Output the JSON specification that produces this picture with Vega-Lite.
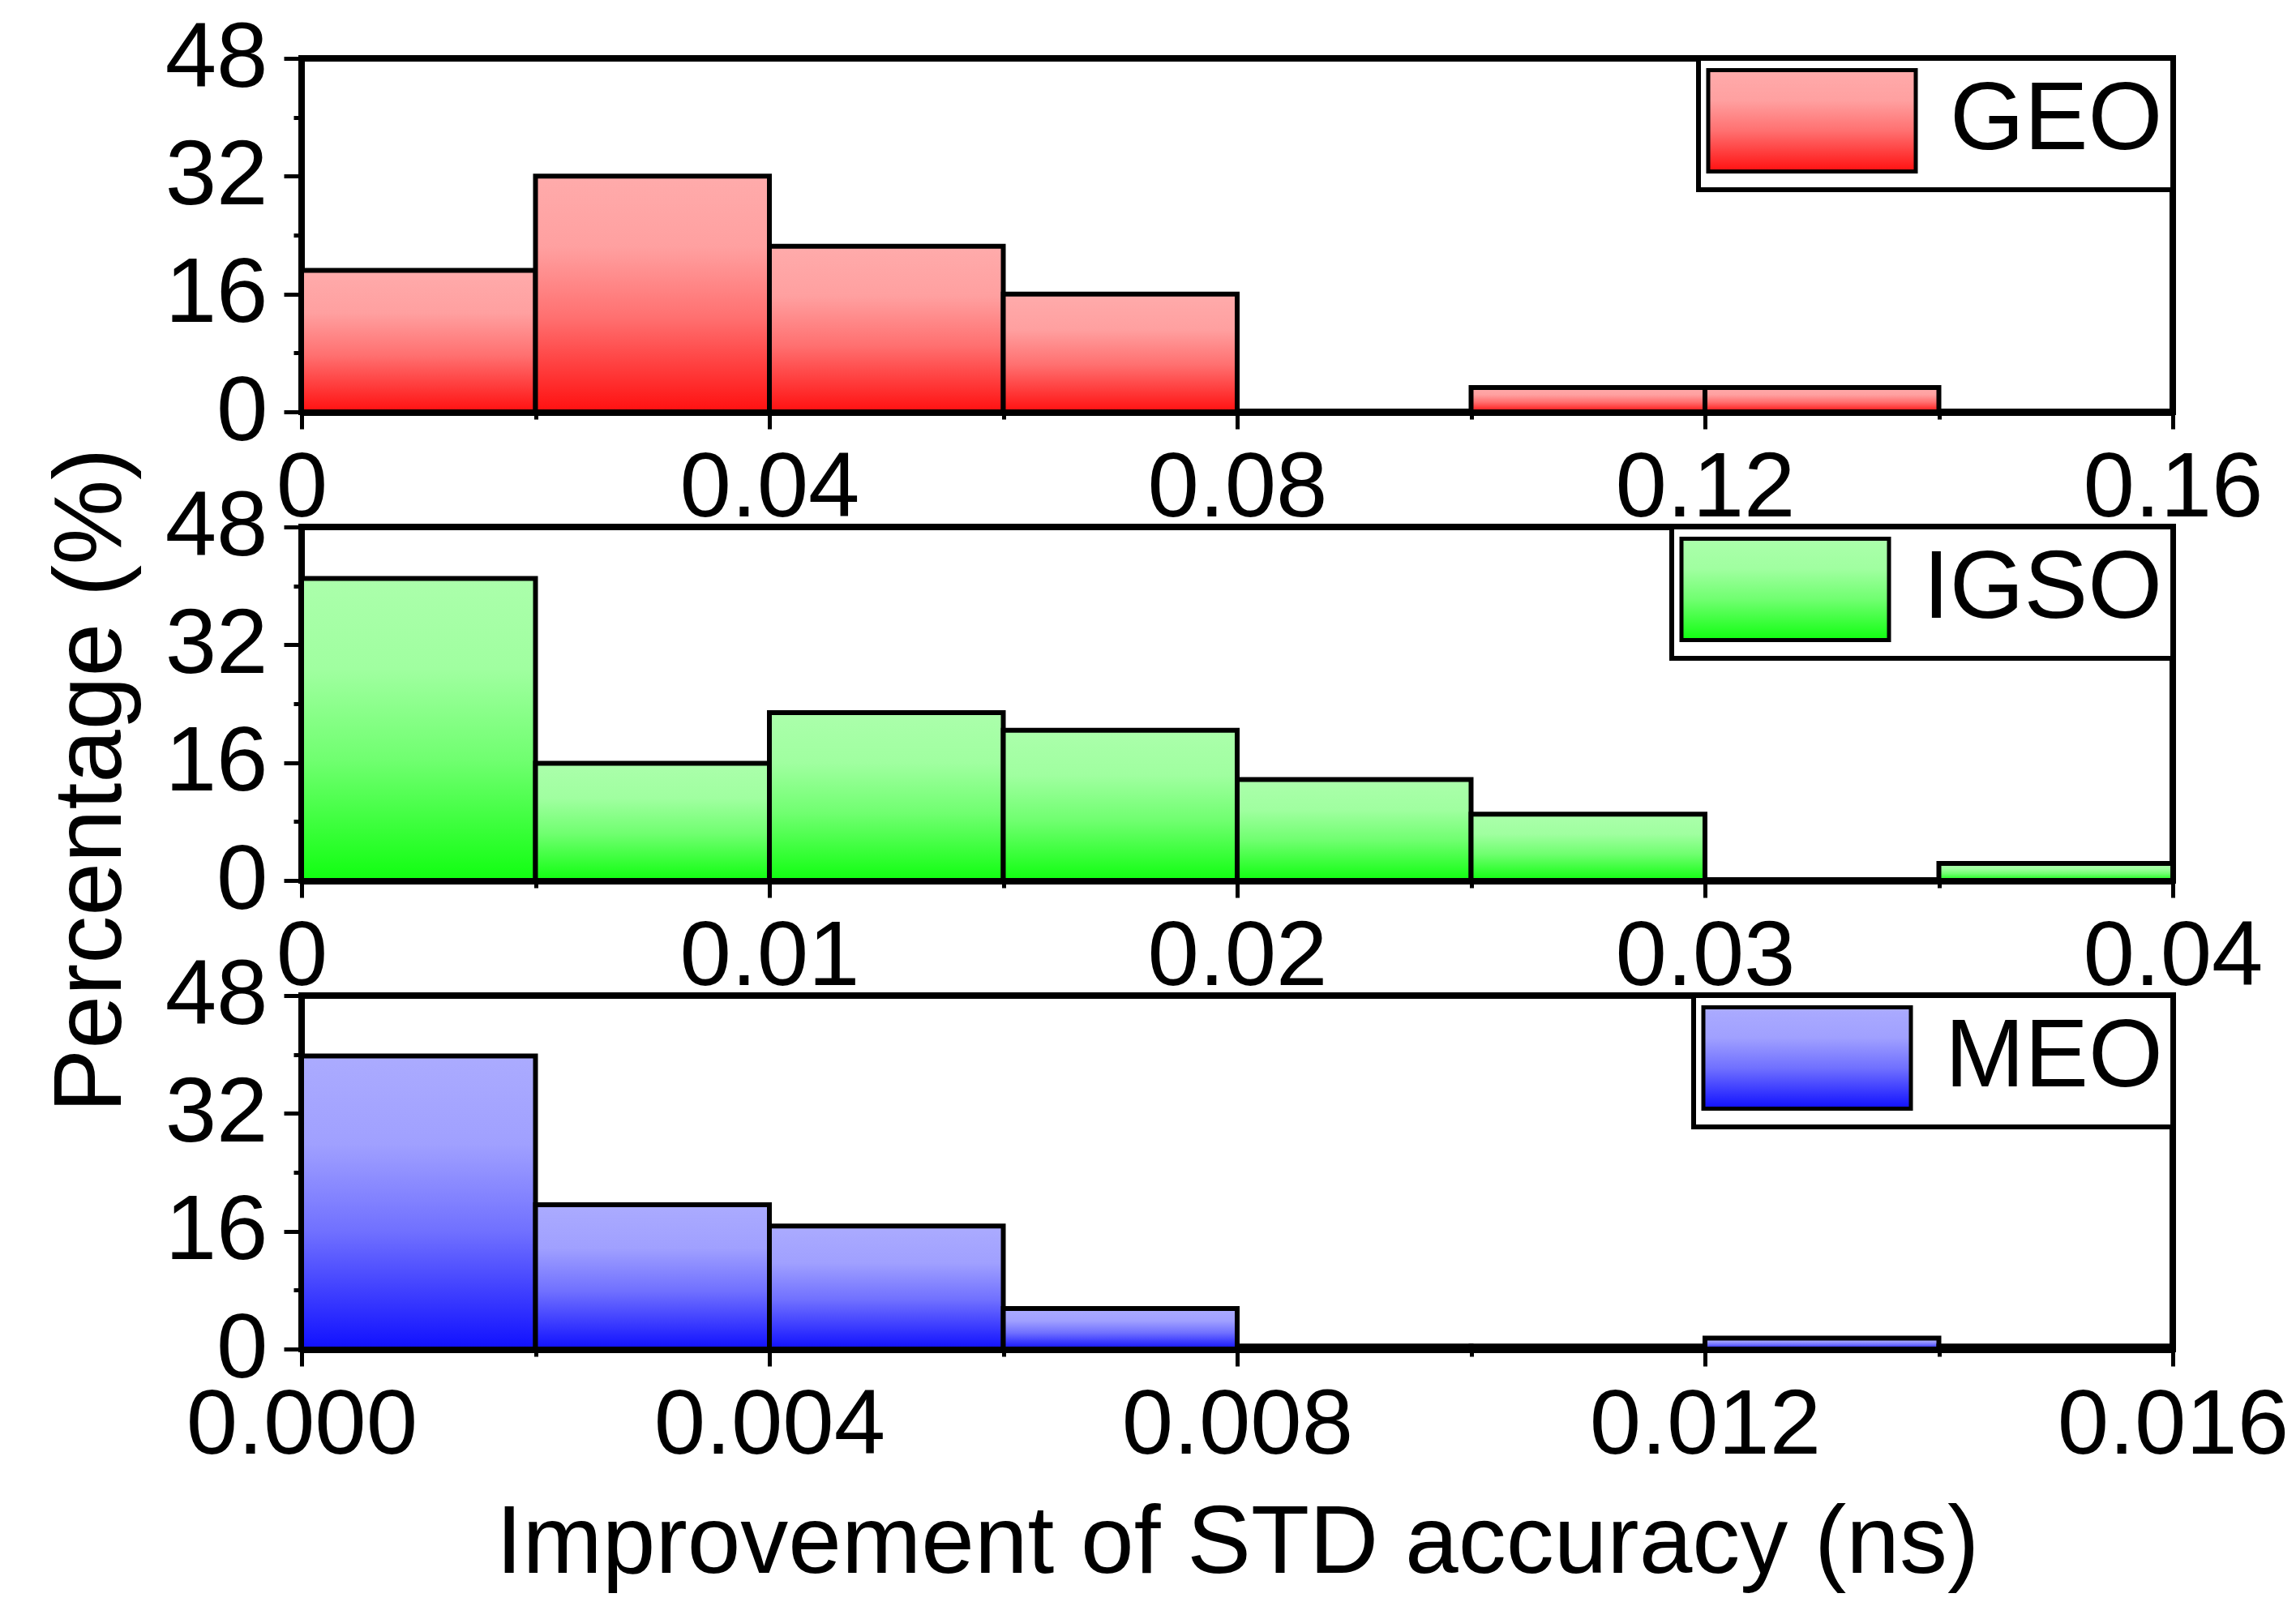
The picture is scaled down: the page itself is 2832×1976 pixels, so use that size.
{
  "$schema": "https://vega.github.io/schema/vega-lite/v6.json",
  "padding": {"left": 50, "top": 11, "right": 10, "bottom": 10},
  "background": "white",
  "data": {
    "values": [
      {"orbit": "GEO", "x0": 0.00, "x1": 0.02, "pct": 19.2},
      {"orbit": "GEO", "x0": 0.02, "x1": 0.04, "pct": 32.0},
      {"orbit": "GEO", "x0": 0.04, "x1": 0.06, "pct": 22.5},
      {"orbit": "GEO", "x0": 0.06, "x1": 0.08, "pct": 16.0},
      {"orbit": "GEO", "x0": 0.10, "x1": 0.12, "pct": 3.3},
      {"orbit": "GEO", "x0": 0.12, "x1": 0.14, "pct": 3.3},
      {"orbit": "IGSO", "x0": 0.000, "x1": 0.005, "pct": 41.0},
      {"orbit": "IGSO", "x0": 0.005, "x1": 0.010, "pct": 15.9},
      {"orbit": "IGSO", "x0": 0.010, "x1": 0.015, "pct": 22.8},
      {"orbit": "IGSO", "x0": 0.015, "x1": 0.020, "pct": 20.4},
      {"orbit": "IGSO", "x0": 0.020, "x1": 0.025, "pct": 13.7},
      {"orbit": "IGSO", "x0": 0.025, "x1": 0.030, "pct": 9.0},
      {"orbit": "IGSO", "x0": 0.035, "x1": 0.040, "pct": 2.3},
      {"orbit": "MEO", "x0": 0.000, "x1": 0.002, "pct": 39.8},
      {"orbit": "MEO", "x0": 0.002, "x1": 0.004, "pct": 19.6},
      {"orbit": "MEO", "x0": 0.004, "x1": 0.006, "pct": 16.7},
      {"orbit": "MEO", "x0": 0.006, "x1": 0.008, "pct": 5.5},
      {"orbit": "MEO", "x0": 0.008, "x1": 0.010, "pct": 0.4},
      {"orbit": "MEO", "x0": 0.010, "x1": 0.012, "pct": 0.4},
      {"orbit": "MEO", "x0": 0.012, "x1": 0.014, "pct": 1.5},
      {"orbit": "MEO", "x0": 0.014, "x1": 0.016, "pct": 0.4}
    ]
  },
  "config": {
    "font": "Liberation Sans",
    "view": {"stroke": "black", "strokeWidth": 8},
    "axis": {
      "labelFont": "Liberation Sans",
      "titleFont": "Liberation Sans",
      "labelFontSize": 114,
      "titleFontSize": 118,
      "titleFontWeight": "normal",
      "labelColor": "black",
      "titleColor": "black",
      "tickColor": "black",
      "domainColor": "black",
      "tickWidth": 5,
      "grid": false,
      "labelFlush": false,
      "labelOverlap": false,
      "labelLimit": 0
    },
    "legend": {
      "labelFont": "Liberation Sans",
      "labelFontSize": 118,
      "labelColor": "black",
      "labelLimit": 0,
      "strokeColor": "black",
      "strokeWidth": 6,
      "fillColor": "white"
    }
  },
  "spacing": 142,
  "bounds": "flush",
  "resolve": {
    "scale": {"x": "independent", "stroke": "independent"},
    "legend": {"stroke": "independent"}
  },
  "vconcat": [
    {
      "width": 2308,
      "height": 436,
      "transform": [{"filter": "datum.orbit === 'GEO'"}],
      "mark": {"type": "bar", "strokeWidth": 6, "fill": {"gradient": "linear", "x1": 0, "y1": 0, "x2": 0, "y2": 1, "stops": [{"offset": 0, "color": "#ffabab"}, {"offset": 0.3, "color": "#ffa0a0"}, {"offset": 0.6, "color": "#ff7070"}, {"offset": 1, "color": "#ff1010"}]}},
      "encoding": {
        "x": {
          "field": "x0", "type": "quantitative",
          "scale": {"domain": [0, 0.16], "nice": false, "zero": false},
          "axis": {
            "title": null,
            "values": [0, 0.02, 0.04, 0.06, 0.08, 0.1, 0.12, 0.14, 0.16],
            "labelExpr": "abs(datum.value/0.04 - round(datum.value/0.04)) < 0.01 ? (datum.value == 0 ? '0' : format(datum.value, '.2f')) : ''",
            "tickSize": {"condition": {"test": "abs(datum.value/0.04 - round(datum.value/0.04)) < 0.01", "value": 21}, "value": 9},
            "labelPadding": 17,
            "domainWidth": 9
          }
        },
        "x2": {"field": "x1"},
        "y": {
          "field": "pct", "type": "quantitative", "stack": null,
          "scale": {"domain": [0, 48], "nice": false},
          "axis": {
            "title": null,
            "values": [0, 8, 16, 24, 32, 40, 48],
            "labelExpr": "datum.value % 16 === 0 ? datum.label : ''",
            "tickSize": {"condition": {"test": "datum.value % 16 === 0", "value": 22}, "value": 10},
            "labelPadding": 20,
            "domainWidth": 6
          }
        },
        "y2": {"datum": 0},
        "stroke": {
          "field": "orbit", "type": "nominal",
          "scale": {"range": ["black"]},
          "legend": {
            "title": null, "orient": "top-right", "offset": 0, "padding": 12,
            "strokeColor": "black",
            "symbolType": "M-1.04,-1H3.056V1H-1.04Z", "symbolSize": 15625,
            "symbolStrokeWidth": 5, "labelOffset": 168,
            "encode": {
              "legend": {"enter": {"strokeWidth": {"value": 6}}, "update": {"strokeWidth": {"value": 6}}},
              "symbols": {"update": {"fill": {"value": {"gradient": "linear", "x1": 0, "y1": 0, "x2": 0, "y2": 1, "stops": [{"offset": 0, "color": "#ffabab"}, {"offset": 0.3, "color": "#ffa0a0"}, {"offset": 0.6, "color": "#ff7070"}, {"offset": 1, "color": "#ff1010"}]}}, "stroke": {"value": "black"}, "strokeWidth": {"value": 5}}}
            }
          }
        }
      }
    },
    {
      "width": 2308,
      "height": 436,
      "transform": [{"filter": "datum.orbit === 'IGSO'"}],
      "mark": {"type": "bar", "strokeWidth": 6, "fill": {"gradient": "linear", "x1": 0, "y1": 0, "x2": 0, "y2": 1, "stops": [{"offset": 0, "color": "#abffab"}, {"offset": 0.3, "color": "#a0ffa0"}, {"offset": 0.6, "color": "#70ff70"}, {"offset": 1, "color": "#10ff10"}]}},
      "encoding": {
        "x": {
          "field": "x0", "type": "quantitative",
          "scale": {"domain": [0, 0.04], "nice": false, "zero": false},
          "axis": {
            "title": null,
            "values": [0, 0.005, 0.01, 0.015, 0.02, 0.025, 0.03, 0.035, 0.04],
            "labelExpr": "abs(datum.value/0.01 - round(datum.value/0.01)) < 0.01 ? (datum.value == 0 ? '0' : format(datum.value, '.2f')) : ''",
            "tickSize": {"condition": {"test": "abs(datum.value/0.01 - round(datum.value/0.01)) < 0.01", "value": 21}, "value": 9},
            "labelPadding": 17,
            "domainWidth": 9
          }
        },
        "x2": {"field": "x1"},
        "y": {
          "field": "pct", "type": "quantitative", "stack": null,
          "scale": {"domain": [0, 48], "nice": false},
          "axis": {
            "title": "Percentage (%)",
            "titleX": -224,
            "titleY": 312,
            "titleBaseline": "alphabetic",
            "titleAlign": "center",
            "titleAngle": 270,
            "values": [0, 8, 16, 24, 32, 40, 48],
            "labelExpr": "datum.value % 16 === 0 ? datum.label : ''",
            "tickSize": {"condition": {"test": "datum.value % 16 === 0", "value": 22}, "value": 10},
            "labelPadding": 20,
            "domainWidth": 6
          }
        },
        "y2": {"datum": 0},
        "stroke": {
          "field": "orbit", "type": "nominal",
          "scale": {"range": ["black"]},
          "legend": {
            "title": null, "orient": "top-right", "offset": 0, "padding": 12,
            "strokeColor": "black",
            "symbolType": "M-1.04,-1H3.056V1H-1.04Z", "symbolSize": 15625,
            "symbolStrokeWidth": 5, "labelOffset": 168,
            "encode": {
              "legend": {"enter": {"strokeWidth": {"value": 6}}, "update": {"strokeWidth": {"value": 6}}},
              "symbols": {"update": {"fill": {"value": {"gradient": "linear", "x1": 0, "y1": 0, "x2": 0, "y2": 1, "stops": [{"offset": 0, "color": "#abffab"}, {"offset": 0.3, "color": "#a0ffa0"}, {"offset": 0.6, "color": "#70ff70"}, {"offset": 1, "color": "#10ff10"}]}}, "stroke": {"value": "black"}, "strokeWidth": {"value": 5}}}
            }
          }
        }
      }
    },
    {
      "width": 2308,
      "height": 436,
      "transform": [{"filter": "datum.orbit === 'MEO'"}],
      "mark": {"type": "bar", "strokeWidth": 6, "fill": {"gradient": "linear", "x1": 0, "y1": 0, "x2": 0, "y2": 1, "stops": [{"offset": 0, "color": "#ababff"}, {"offset": 0.3, "color": "#a0a0ff"}, {"offset": 0.6, "color": "#7070ff"}, {"offset": 1, "color": "#1010ff"}]}},
      "encoding": {
        "x": {
          "field": "x0", "type": "quantitative",
          "scale": {"domain": [0, 0.016], "nice": false, "zero": false},
          "axis": {
            "title": "Improvement of STD accuracy (ns)",
            "titleY": 275,
            "titleBaseline": "alphabetic",
            "values": [0, 0.002, 0.004, 0.006, 0.008, 0.01, 0.012, 0.014, 0.016],
            "labelExpr": "abs(datum.value/0.004 - round(datum.value/0.004)) < 0.01 ? format(datum.value, '.3f') : ''",
            "tickSize": {"condition": {"test": "abs(datum.value/0.004 - round(datum.value/0.004)) < 0.01", "value": 21}, "value": 9},
            "labelPadding": 17,
            "domainWidth": 9
          }
        },
        "x2": {"field": "x1"},
        "y": {
          "field": "pct", "type": "quantitative", "stack": null,
          "scale": {"domain": [0, 48], "nice": false},
          "axis": {
            "title": null,
            "values": [0, 8, 16, 24, 32, 40, 48],
            "labelExpr": "datum.value % 16 === 0 ? datum.label : ''",
            "tickSize": {"condition": {"test": "datum.value % 16 === 0", "value": 22}, "value": 10},
            "labelPadding": 20,
            "domainWidth": 6
          }
        },
        "y2": {"datum": 0},
        "stroke": {
          "field": "orbit", "type": "nominal",
          "scale": {"range": ["black"]},
          "legend": {
            "title": null, "orient": "top-right", "offset": 0, "padding": 12,
            "strokeColor": "black",
            "symbolType": "M-1.04,-1H3.056V1H-1.04Z", "symbolSize": 15625,
            "symbolStrokeWidth": 5, "labelOffset": 168,
            "encode": {
              "legend": {"enter": {"strokeWidth": {"value": 6}}, "update": {"strokeWidth": {"value": 6}}},
              "symbols": {"update": {"fill": {"value": {"gradient": "linear", "x1": 0, "y1": 0, "x2": 0, "y2": 1, "stops": [{"offset": 0, "color": "#ababff"}, {"offset": 0.3, "color": "#a0a0ff"}, {"offset": 0.6, "color": "#7070ff"}, {"offset": 1, "color": "#1010ff"}]}}, "stroke": {"value": "black"}, "strokeWidth": {"value": 5}}}
            }
          }
        }
      }
    }
  ]
}
